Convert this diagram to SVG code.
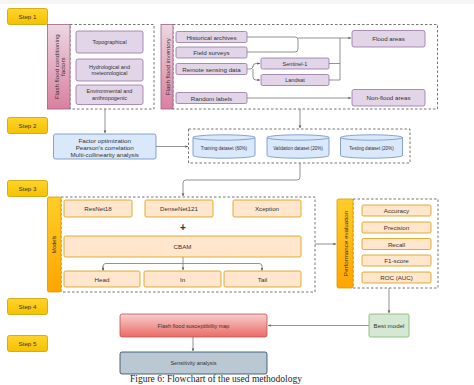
<svg xmlns="http://www.w3.org/2000/svg" width="474" height="385" viewBox="0 0 474 385">
<defs>
<linearGradient id="gPink" x1="0" y1="0" x2="0" y2="1"><stop offset="0" stop-color="#edd6e2"/><stop offset="1" stop-color="#d9809f"/></linearGradient>
<linearGradient id="gOrange" x1="0" y1="0" x2="0" y2="1"><stop offset="0" stop-color="#ffcd28"/><stop offset="1" stop-color="#ffa500"/></linearGradient>
<linearGradient id="gStep" x1="0" y1="0" x2="0" y2="1"><stop offset="0" stop-color="#ffd42a"/><stop offset="1" stop-color="#f5c200"/></linearGradient>
<linearGradient id="gRed" x1="0" y1="0" x2="0" y2="1"><stop offset="0" stop-color="#f8cecc"/><stop offset="1" stop-color="#ea6b66"/></linearGradient>
<marker id="ah" viewBox="0 0 6 6" refX="5.5" refY="3" markerWidth="4" markerHeight="4" orient="auto"><path d="M0,0.5 L6,3 L0,5.5 L1.2,3 Z" fill="#555"/></marker>
<style>
text{font-family:"Liberation Sans",Arial,sans-serif;fill:#333;text-anchor:middle;dominant-baseline:central}
.step rect{fill:url(#gStep);stroke:#c8a000;stroke-width:0.8}
.lav{fill:#e1d5e7;stroke:#9673a6;stroke-width:0.8}
.peach{fill:#ffe6cc;stroke:#d79b00;stroke-width:0.8}
.dash{fill:none;stroke:#666;stroke-width:0.9;stroke-dasharray:2.5,2}
.side-p{fill:url(#gPink);stroke:#996185;stroke-width:0.8}
.side-o{fill:url(#gOrange);stroke:#d79b00;stroke-width:0.8}
.t6{font-size:6.2px}
.t55{font-size:5.5px}
.t48{font-size:4.6px}
#conn path{fill:none;stroke:#777;stroke-width:0.8}
.cyl{fill:#dae8fc;stroke:#6c8ebf;stroke-width:0.8}
.cap{font-family:"Liberation Serif","Times New Roman",serif;font-size:9.5px;fill:#222;dominant-baseline:auto}
</style>
</defs>
<rect x="0" y="0" width="474" height="385" fill="#ffffff"/>
<rect x="0" y="0" width="474" height="4" fill="#f5f5f5"/>

<!-- steps -->
<g id="step1" class="step"><rect x="7.5" y="8.5" width="40" height="16" rx="2"/><text x="27.5" y="16.5" class="t6">Step 1</text></g>
<g id="step2" class="step"><rect x="7.5" y="117.5" width="40" height="16" rx="2"/><text x="27.5" y="125.5" class="t6">Step 2</text></g>
<g id="step3" class="step"><rect x="7.5" y="180.5" width="40" height="16" rx="2"/><text x="27.5" y="188.5" class="t6">Step 3</text></g>
<g id="step4" class="step"><rect x="7.5" y="298.5" width="40" height="16" rx="2"/><text x="27.5" y="306.5" class="t6">Step 4</text></g>
<g id="step5" class="step"><rect x="7.5" y="335.5" width="40" height="16" rx="2"/><text x="27.5" y="343.5" class="t6">Step 5</text></g>

<!-- connectors -->
<g id="conn">
<path d="M105,109 V133" marker-end="url(#ah)"/>
<path d="M300,109 V128" marker-end="url(#ah)"/>
<path d="M156,146.5 H188" marker-end="url(#ah)"/>
<path d="M300,163 V177 Q300,180 297,180 H186 Q183,180 183,183 V196" marker-end="url(#ah)"/>
<path d="M247,37 H295 Q298,37 298,40 V49 Q298,52 295,52 H247"/>
<path d="M298,38 H351" marker-end="url(#ah)"/>
<path d="M329,63.5 H340 M329,80 H340 M340,80 V38"/>
<path d="M247,69 H250 Q253,69 253,66 V66.5 Q253,63.5 256,63.5 H260" marker-end="url(#ah)"/>
<path d="M253,69 V77 Q253,80 256,80 H260" marker-end="url(#ah)"/>
<path d="M247,98 H351" marker-end="url(#ah)"/>
<path d="M183,257 V270" marker-end="url(#ah)"/>
<path d="M103,270.5 V266 Q103,263.5 106,263.5 H259 Q262,263.5 262,266 V270.5" marker-end="url(#ah)"/>
<path d="M103,266 V270.5" marker-end="url(#ah)"/>
<path d="M315,244 H336" marker-end="url(#ah)"/>
<path d="M389,288 V313" marker-end="url(#ah)"/>
<path d="M369,325.5 H268" marker-end="url(#ah)"/>
<path d="M193,337 V351" marker-end="url(#ah)"/>
</g>

<!-- step 1 -->
<g id="conditioning">
<rect class="dash" x="70" y="24.5" width="84" height="84.5"/>
<rect class="side-p" x="47.5" y="24.5" width="22.5" height="84.5"/>
<text class="t6" transform="translate(58.7,66.7) rotate(-90)"><tspan x="0" y="-3.2">Flash flood conditioning</tspan><tspan x="0" y="3.4">factors</tspan></text>
</g>
<g id="topographical"><rect class="lav" x="76" y="31" width="67" height="22" rx="2"/><text x="109.5" y="42" class="t55">Topographical</text></g>
<g id="hydro"><rect class="lav" x="76" y="59" width="67" height="22" rx="2"/><text class="t55" x="109.5" y="70"><tspan x="109.5" y="66.8">Hydrological and</tspan><tspan x="109.5" y="73.4">meteorological</tspan></text></g>
<g id="env"><rect class="lav" x="76" y="85" width="67" height="19.5" rx="2"/><text class="t55" x="109.5" y="94"><tspan x="109.5" y="91.4">Environmental and</tspan><tspan x="109.5" y="98">anthropogenic</tspan></text></g>

<g id="inventory">
<rect class="dash" x="173" y="24.5" width="264.5" height="84.5"/>
<rect class="side-p" x="161" y="24.5" width="12" height="84.5"/>
<text class="t6" transform="translate(167.3,66.7) rotate(-90)">Flash flood inventory</text>
</g>
<g id="historical"><rect class="lav" x="176" y="31.5" width="71" height="11" rx="1.5"/><text x="211.5" y="37" class="t6">Historical archives</text></g>
<g id="field"><rect class="lav" x="176" y="47" width="71" height="11" rx="1.5"/><text x="211.5" y="52.5" class="t6">Field surveys</text></g>
<g id="remote"><rect class="lav" x="176" y="63.5" width="71" height="11" rx="1.5"/><text x="211.5" y="69" class="t6">Remote sensing data</text></g>
<g id="random"><rect class="lav" x="176" y="92.5" width="71" height="11" rx="1.5"/><text x="211.5" y="98" class="t6">Random labels</text></g>
<g id="sentinel"><rect class="lav" x="261" y="58" width="68" height="11" rx="1.5"/><text x="295" y="63.5" class="t55">Sentinel-1</text></g>
<g id="landsat"><rect class="lav" x="261" y="74.5" width="68" height="11" rx="1.5"/><text x="295" y="80" class="t55">Landsat</text></g>
<g id="flood"><rect class="lav" x="352" y="30.5" width="73" height="16.5" rx="2"/><text x="388.5" y="38.7" class="t6">Flood areas</text></g>
<g id="nonflood"><rect class="lav" x="352" y="89.5" width="73" height="16.5" rx="2"/><text x="388.5" y="97.7" class="t6">Non-flood areas</text></g>

<!-- step 2 -->
<g id="factor"><rect x="53.5" y="134" width="102.5" height="25" rx="2" fill="#dae8fc" stroke="#6c8ebf" stroke-width="0.8"/>
<text class="t6"><tspan x="104.7" y="139.5">Factor optimization</tspan><tspan x="104.7" y="146.5">Pearson's correlation</tspan><tspan x="104.7" y="153.5">Multi-collinearity analysis</tspan></text></g>
<g id="datasets"><rect class="dash" x="188.5" y="129" width="221.5" height="34"/></g>
<g id="training"><path class="cyl" d="M193,137.5 A31,2.7 0 0 1 255,137.5 V155.5 A31,2.7 0 0 1 193,155.5 Z"/><path d="M193,137.5 A31,2.7 0 0 0 255,137.5" fill="none" stroke="#6c8ebf" stroke-width="0.8"/><text x="224" y="148" class="t48">Training dataset (60%)</text></g>
<g id="validation"><path class="cyl" d="M267,137.5 A31,2.7 0 0 1 329,137.5 V155.5 A31,2.7 0 0 1 267,155.5 Z"/><path d="M267,137.5 A31,2.7 0 0 0 329,137.5" fill="none" stroke="#6c8ebf" stroke-width="0.8"/><text x="298" y="148" class="t48">Validation dataset (20%)</text></g>
<g id="testing"><path class="cyl" d="M340.5,137.5 A31,2.7 0 0 1 402.5,137.5 V155.5 A31,2.7 0 0 1 340.5,155.5 Z"/><path d="M340.5,137.5 A31,2.7 0 0 0 402.5,137.5" fill="none" stroke="#6c8ebf" stroke-width="0.8"/><text x="371.5" y="148" class="t48">Testing dataset (20%)</text></g>

<!-- step 3 -->
<g id="models">
<rect class="dash" x="61" y="197" width="254" height="95"/>
<rect class="side-o" x="47.5" y="197" width="13.5" height="95" rx="1.5"/>
<text class="t55" transform="translate(54.3,244.5) rotate(-90)">Models</text>
</g>
<g id="resnet"><rect class="peach" x="64" y="200" width="68" height="17" rx="1.5"/><text x="98" y="208.5" class="t6">ResNet18</text></g>
<g id="densenet"><rect class="peach" x="145" y="200" width="68" height="17" rx="1.5"/><text x="179" y="208.5" class="t6">DenseNet121</text></g>
<g id="xception"><rect class="peach" x="233" y="200" width="68" height="17" rx="1.5"/><text x="267" y="208.5" class="t6">Xception</text></g>
<text x="183" y="227" font-size="10" font-weight="bold">+</text>
<g id="cbam"><rect class="peach" x="64" y="236" width="237" height="21" rx="1.5"/><text x="182.5" y="246.5" class="t6">CBAM</text></g>
<g id="head"><rect class="peach" x="64" y="271" width="76" height="16" rx="1.5"/><text x="102" y="279" class="t6">Head</text></g>
<g id="in"><rect class="peach" x="144" y="271" width="77" height="16" rx="1.5"/><text x="182.5" y="279" class="t6">In</text></g>
<g id="tail"><rect class="peach" x="224" y="271" width="77" height="16" rx="1.5"/><text x="262.5" y="279" class="t6">Tail</text></g>

<g id="performance">
<rect class="dash" x="353" y="199" width="85" height="89"/>
<rect class="side-o" x="337" y="199" width="16" height="89" rx="1.5"/>
<text class="t6" transform="translate(345.3,243.5) rotate(-90)">Performance evaluation</text>
</g>
<g id="accuracy"><rect class="peach" x="362" y="205" width="69" height="11" rx="1.5"/><text x="396.5" y="210.5" class="t6">Accuracy</text></g>
<g id="precision"><rect class="peach" x="362" y="222" width="69" height="11" rx="1.5"/><text x="396.5" y="227.5" class="t6">Precision</text></g>
<g id="recall"><rect class="peach" x="362" y="238.5" width="69" height="11" rx="1.5"/><text x="396.5" y="244" class="t6">Recall</text></g>
<g id="f1"><rect class="peach" x="362" y="255" width="69" height="11" rx="1.5"/><text x="396.5" y="260.5" class="t6">F1-score</text></g>
<g id="roc"><rect class="peach" x="362" y="272" width="69" height="11" rx="1.5"/><text x="396.5" y="277.5" class="t6">ROC (AUC)</text></g>

<!-- steps 4,5 -->
<g id="best"><rect x="369" y="314" width="40" height="23" rx="1.5" fill="#d5e8d4" stroke="#82b366" stroke-width="0.8"/><text x="389" y="325.5" class="t6">Best model</text></g>
<g id="map"><rect x="120" y="314" width="147" height="23" rx="2" fill="url(#gRed)" stroke="#b85450" stroke-width="0.8"/><text x="193.5" y="325.5" class="t55">Flash flood susceptibility map</text></g>
<g id="sensitivity"><rect x="120" y="352" width="147" height="22" rx="2" fill="#bac8d3" stroke="#23445d" stroke-width="0.8"/><text x="193.5" y="363" class="t55">Sensitivity analysis</text></g>

<text x="216" y="382.3" class="cap">Figure 6: Flowchart of the used methodology</text>
</svg>
